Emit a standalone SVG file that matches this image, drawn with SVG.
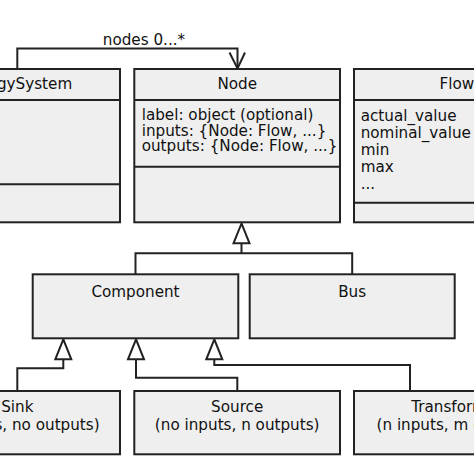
<svg xmlns="http://www.w3.org/2000/svg" width="474" height="474" viewBox="0 0 474 474">
<style>
.box{fill:#efefef;stroke:#222;stroke-width:2}
.sep{stroke:#222;stroke-width:2;fill:none}
.line{stroke:#222;stroke-width:2;fill:none}
.tri{fill:#fff;stroke:#222;stroke-width:2;stroke-linejoin:miter}
text{font-family:"DejaVu Sans",Verdana,sans-serif;font-size:15.2px;fill:#111}
.c{text-anchor:middle}
</style>
<rect x="0" y="0" width="474" height="474" fill="#fff"/>
<g id="connectors">
<polyline class="line" points="17.3,69 17.3,48.5 237.5,48.5 237.5,68"/>
<polyline class="line" points="229.5,52.5 237.5,68.5 245,52.5"/>
<text x="144" y="45" class="c">nodes 0...*</text>
<polyline class="line" points="241.5,243.3 241.5,253.3"/>
<polyline class="line" points="135.5,274.3 135.5,253.3 352.2,253.3 352.2,274.3"/>
<polygon class="tri" points="241.5,223.5 233.5,243.3 249.5,243.3"/>
<polyline class="line" points="63.3,359.3 63.3,368.3 17.3,368.3 17.3,391"/>
<polyline class="line" points="136,359.3 136,377.7 237.3,377.7 237.3,391"/>
<polyline class="line" points="214.3,359.3 214.3,365 410,365 410,391"/>
<polygon class="tri" points="63.3,339.3 55.3,359.3 71.3,359.3"/>
<polygon class="tri" points="136,339.3 128,359.3 144,359.3"/>
<polygon class="tri" points="214.3,339.3 206.3,359.3 222.3,359.3"/>
</g>
<g id="EnergySystem">
<rect class="box" x="-85.3" y="69" width="205.3" height="153.3"/>
<line class="sep" x1="-85.3" y1="100" x2="120" y2="100"/>
<line class="sep" x1="-85.3" y1="184.3" x2="120" y2="184.3"/>
<text x="17.3" y="89" class="c">EnergySystem</text>
</g>
<g id="Node">
<rect class="box" x="134.3" y="69" width="205.7" height="153.3"/>
<line class="sep" x1="134.3" y1="100" x2="340" y2="100"/>
<line class="sep" x1="134.3" y1="166.7" x2="340" y2="166.7"/>
<text x="237.2" y="89" class="c">Node</text>
<text x="141.7" y="120">label: object (optional)</text>
<text x="141.7" y="135.7">inputs: {Node: Flow, ...}</text>
<text x="141.7" y="151.3">outputs: {Node: Flow, ...}</text>
</g>
<g id="Flow">
<rect class="box" x="354" y="69" width="205.7" height="153.3"/>
<line class="sep" x1="354" y1="100" x2="559.7" y2="100"/>
<line class="sep" x1="354" y1="202.7" x2="559.7" y2="202.7"/>
<text x="456.8" y="89" class="c">Flow</text>
<text x="360.7" y="121">actual_value</text>
<text x="360.7" y="138">nominal_value</text>
<text x="360.7" y="155">min</text>
<text x="360.7" y="172">max</text>
<text x="360.7" y="189">...</text>
</g>
<g id="Component">
<rect class="box" x="32.7" y="274.3" width="205.6" height="64"/>
<text x="135.5" y="296.5" class="c">Component</text>
</g>
<g id="Bus">
<rect class="box" x="249.7" y="274.3" width="205" height="64"/>
<text x="352.2" y="296.5" class="c">Bus</text>
</g>
<g id="Sink">
<rect class="box" x="-85.3" y="391" width="205.3" height="63.3"/>
<text x="17.3" y="411.7" class="c">Sink</text>
<text x="17.3" y="430" class="c">(n inputs, no outputs)</text>
</g>
<g id="Source">
<rect class="box" x="134.3" y="391" width="205.7" height="63.3"/>
<text x="237.2" y="411.7" class="c">Source</text>
<text x="237.2" y="430" class="c">(no inputs, n outputs)</text>
</g>
<g id="Transformer">
<rect class="box" x="354" y="391" width="205.7" height="63.3"/>
<text x="456.8" y="411.7" class="c">Transformer</text>
<text x="456.8" y="430" class="c">(n inputs, m outputs)</text>
</g>
</svg>
